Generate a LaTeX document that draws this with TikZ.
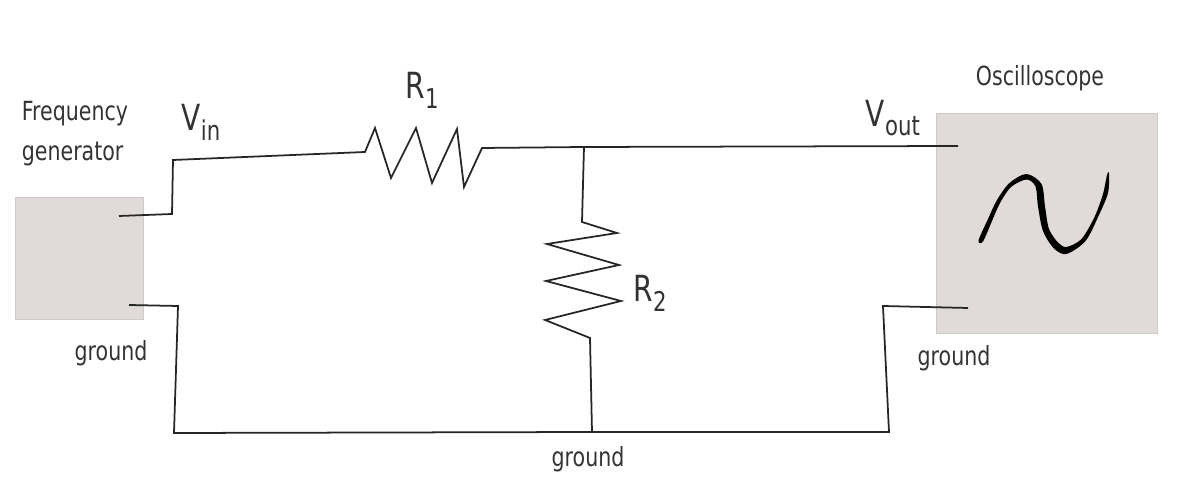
\documentclass[tikz,border=0pt]{standalone}
\usepackage{fontspec}
\setmainfont[FakeStretch=0.78]{DejaVu Sans}
\definecolor{boxgray}{HTML}{E0DBD9}
\definecolor{boxedge}{HTML}{CFCAC8}
\definecolor{textgray}{HTML}{333333}
\newcommand{\subtext}[1]{\raisebox{-0.5ex}{\fontsize{15.5}{16}\selectfont #1}}
\tikzset{
    devicebox/.style={draw=boxedge, fill=boxgray, inner sep=0pt, line width=0.5pt},
    wire/.style={line width=1pt, line join=miter, black!85},
    smalllabel/.style={inner sep=0pt, text=textgray, font=\fontsize{15}{23}\selectfont},
    biglabel/.style={inner sep=0pt, text=textgray, font=\fontsize{20.5}{24}\selectfont}
}
\begin{document}
\begin{tikzpicture}
        \useasboundingbox (0, 0) rectangle (23.72, 9.76);

        \node[devicebox, minimum width=2.56cm, minimum height=2.44cm] (generator) at (1.58, 4.60) {};
        \node[devicebox, minimum width=4.42cm, minimum height=4.40cm] (scope) at (20.93, 5.30) {};

        \coordinate (ginA) at (2.38, 5.44);
        \coordinate (ginB) at (3.44, 5.48);
        \coordinate (ginC) at (3.46, 6.56);
        \coordinate (rAa) at (7.30, 6.72);
        \coordinate (rAb) at (7.50, 7.20);
        \coordinate (rAc) at (7.82, 6.20);
        \coordinate (rAd) at (8.32, 7.20);
        \coordinate (rAe) at (8.64, 6.10);
        \coordinate (rAf) at (9.14, 7.18);
        \coordinate (rAg) at (9.28, 6.02);
        \coordinate (rAh) at (9.64, 6.80);
        \coordinate (top) at (11.68, 6.82);
        \coordinate (sin) at (19.16, 6.84);

        \coordinate (rBa) at (11.64, 5.32);
        \coordinate (rBb) at (12.34, 5.10);
        \coordinate (rBc) at (10.94, 4.88);
        \coordinate (rBd) at (12.38, 4.46);
        \coordinate (rBe) at (10.92, 4.14);
        \coordinate (rBf) at (12.42, 3.74);
        \coordinate (rBg) at (10.90, 3.36);
        \coordinate (rBh) at (11.80, 3.00);
        \coordinate (bottom) at (11.84, 1.12);

        \coordinate (gndA) at (2.58, 3.66);
        \coordinate (gndB) at (3.56, 3.64);
        \coordinate (gndC) at (3.48, 1.10);
        \coordinate (gndD) at (17.78, 1.12);
        \coordinate (gndE) at (17.66, 3.64);
        \coordinate (gndF) at (19.36, 3.60);

        \draw[wire] (ginA) -- (ginB) -- (ginC) -- (rAa) -- (rAb) -- (rAc) -- (rAd) -- (rAe) -- (rAf) -- (rAg) -- (rAh) -- (top) -- (sin);
        \draw[wire] (top) -- (rBa) -- (rBb) -- (rBc) -- (rBd) -- (rBe) -- (rBf) -- (rBg) -- (rBh) -- (bottom);
        \draw[wire] (gndA) -- (gndB) -- (gndC) -- (bottom) -- (gndD) -- (gndE) -- (gndF);

        % trace on the screen
        \fill[black] plot[smooth cycle, tension=0.5] coordinates {(19.57, 4.95) (19.76, 5.38) (19.94, 5.76) (20.19, 6.10) (20.53, 6.28) (20.83, 6.08) (20.90, 5.63) (20.98, 5.18) (21.16, 4.91) (21.33, 4.82) (21.63, 4.98) (21.89, 5.42) (22.06, 5.88) (22.14, 6.26) (22.18, 6.30) (22.16, 5.90) (21.97, 5.44) (21.71, 4.94) (21.33, 4.68) (21.08, 4.79) (20.86, 5.14) (20.76, 5.63) (20.71, 6.03) (20.53, 6.17) (20.22, 6.02) (20.00, 5.70) (19.84, 5.34) (19.66, 4.93)};

        \node[smalllabel, align=left] (genlabel) at (1.50, 7.09) {Frequency\\generator};
        \node[smalllabel] (scopelabel) at (20.80, 8.20) {Oscilloscope};
        \node[biglabel] (vin) at (4.02, 7.32) {V\subtext{in}};
        \node[biglabel] (vout) at (17.86, 7.40) {V\subtext{out}};
        \node[biglabel] (rone) at (8.44, 7.96) {R\subtext{1}};
        \node[biglabel] (rtwo) at (13.00, 3.90) {R\subtext{2}};
        \node[smalllabel] (gndleft) at (2.22, 2.70) {ground};
        \node[smalllabel] (gndright) at (19.08, 2.60) {ground};
        \node[smalllabel] (gndmid) at (11.76, 0.58) {ground};

    \end{tikzpicture}
\end{document}
